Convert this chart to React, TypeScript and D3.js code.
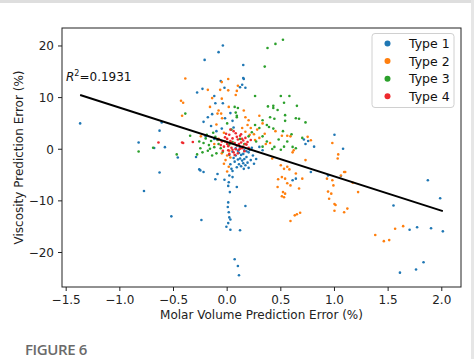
import React from 'react';
import * as d3 from 'd3';

// [molar volume error %, viscosity error %]
const type1: [number, number][] = [
  [-1.37, 5.0], [-0.28, 11.0], [-0.61, 5.2], [-0.63, 3.6], [-0.825, 1.3], [-0.58, 0.4], [-0.68, 0.25],
  [-0.46, -1.6], [-0.29, -1.5], [-0.63, -4.5], [-0.25, -4.1], [-0.775, -8.1], [-0.52, -13.0], [-0.24, -13.7],
  [-0.04, 20.1], [-0.08, 18.8], [-0.21, 17.3], [0.15, 16.3], [0.15, 13.8], [-0.06, 13.2],
  [-0.23, 11.7], [-0.025, 11.9], [0.12, 12.0], [0.17, 11.9], [0.155, 13.6], [0.14, 12.5], [-0.12, 10.3],
  [-0.11, 8.9], [-0.04, 8.9], [-0.14, 6.8], [-0.18, 6.2], [-0.22, 5.3],
  [0.73, 1.0], [0.755, 1.6], [0.81, 0.5], [0.715, 1.9], [0.30, 0.45], [0.33, -0.2], [1.0, 2.8], [1.08, 0.1],
  [0.015, -6.4], [0.025, -8.3], [0.01, -10.3], [0.006, -11.2], [0.015, -12.2], [0.02, -13.2], [0.03, -13.6],
  [0.01, -14.3], [-0.007, -15.0], [0.03, -15.6], [0.01, -7.1], [0.02, -5.1], [-0.025, -5.9], [0.05, -5.4],
  [0.09, -7.3], [-0.11, -5.8], [-0.26, -3.9], [-0.22, -4.4], [0.17, -11.0], [0.12, -15.7], [0.07, -21.3],
  [0.10, -22.6], [0.11, -24.4], [0.155, -3.8],
  [0.61, -6.0], [0.64, -5.7], [0.78, -4.4], [0.94, -5.1], [1.06, -5.2],
  [1.55, -10.9], [1.70, -15.6], [1.77, -15.1], [1.90, -15.3], [2.01, -15.9], [1.87, -6.0], [1.985, -9.5],
  [1.83, -21.9], [1.76, -23.3], [1.61, -23.9],
  [0.05, -0.5], [0.08, -1.2], [0.1, -0.3], [0.12, -1.8], [0.15, -0.9], [0.18, -1.5], [0.2, -0.6], [0.22, -2.1],
  [0.07, -2.4], [0.11, -2.9], [0.14, -2.2], [0.17, -3.1], [0.19, -2.6], [0.09, -3.5], [0.13, -1.1], [0.16, -0.2],
  [0.06, -1.7], [0.24, -1.2], [0.21, -0.1], [0.03, -2.9], [0.12, 0.4], [0.04, -3.8], [0.25, -2.8], [0.1, -2.0],
  [0.15, -2.7], [0.18, -0.4], [0.08, 0.2], [0.23, 0.3], [0.13, -3.3], [0.2, -3.6], [0.27, -1.9], [0.02, -1.1],
  [0.16, -1.9], [0.11, -0.7],
  [-0.15, 4.5], [-0.1, 3.5], [-0.05, 4.0], [-0.2, 2.5], [0.05, 5.5], [0.03, 7.0], [-0.02, 6.0], [0.06, 4.2],
  [-0.12, 2.0], [-0.09, -4.8], [0.05, -4.2],
];

const type2: [number, number][] = [
  [-0.39, 13.7], [-0.43, 9.4], [-0.41, 9.0], [-0.42, 6.5], [-0.245, 2.5], [0.01, 13.6], [-0.05, 13.0],
  [-0.18, 11.5], [-0.065, 11.5], [0.01, 11.4], [0.10, 12.3], [0.09, 11.3], [0.08, 10.5], [-0.14, 9.9],
  [-0.05, 9.8], [0.015, 8.2], [-0.16, 8.2], [-0.08, 7.5], [-0.056, 6.9], [-0.09, 6.9], [-0.047, 6.0],
  [0.155, 7.5], [0.17, 6.2], [0.20, 5.6], [0.19, 4.7], [0.22, 4.1], [0.14, 4.1], [0.17, 3.4], [0.21, 2.8],
  [0.25, 2.9], [0.51, 2.6], [0.56, 2.6], [0.59, 2.5], [0.75, 2.4], [0.78, 1.75], [0.98, 1.2],
  [0, -4.3], [0.015, -3.4], [-0.015, -2.1], [-0.03, -2.8],
  [0.42, -1.8], [0.475, -5.8], [0.51, -5.4], [0.54, -5.7], [0.56, -6.6], [0.47, -7.3], [0.52, -8.3],
  [0.54, -8.6], [0.53, -9.3], [0.51, -9.1],
  [0.50, -3.1], [0.53, -3.8], [0.56, -3.4], [0.58, -3.9], [0.64, -4.7], [0.70, -5.7], [0.73, -2.1],
  [0.62, -0.2], [0.61, -0.6], [0.59, -7.0], [0.67, -7.6],
  [0.59, -13.9], [0.63, -12.8], [0.65, -12.6], [0.68, -12.3],
  [1.035, -1.0], [1.03, -1.8], [1.10, -4.4],
  [0.93, -5.7], [0.98, -6.0], [0.99, -7.0], [0.94, -8.2], [0.97, -8.6], [0.95, -9.6], [1.0, -10.6],
  [1.01, -10.8], [1.0, -11.9], [1.09, -12.2], [1.12, -11.5], [1.09, -4.4], [1.06, -5.1], [1.22, -8.3],
  [1.17, -6.5],
  [1.38, -16.6], [1.46, -17.8], [1.51, -17.6], [1.565, -15.4], [1.64, -14.9],
  [-0.08, 2.0], [-0.03, 3.2], [0.0, -1.2], [-0.05, -0.8], [0.03, -1.6], [0.26, 1.8], [0.3, 2.2], [0.35, 3.0],
  [0.28, 3.8], [0.4, 1.2], [0.33, 5.0], [0.3, 6.5], [0.36, 1.0], [-0.12, 1.0], [-0.1, 4.8], [0.45, 3.5],
  [0.02, -0.3], [-0.02, 1.5],
];

const type3: [number, number][] = [
  [-0.39, 6.9], [-0.345, 2.6], [-0.69, 0.3], [-0.26, 1.5], [-0.825, -0.45], [-0.47, -1.0], [-0.28, -1.0],
  [0.376, 19.6], [0.45, 20.4], [0.52, 21.2], [0.35, 16.0], [0.26, 10.3], [0.07, 8.2], [0.10, 8.0],
  [0.08, 7.1], [0.09, 6.5], [0.09, 6.2],
  [0.38, 8.3], [0.43, 8.4], [0.47, 7.6], [0.43, 8.0], [0.50, 10.3], [0.58, 10.3], [0.53, 9.0], [0.65, 8.4],
  [0.54, 6.6], [0.54, 5.5], [0.64, 6.0], [0.67, 5.9], [0.40, 6.2], [0.44, 5.9], [0.33, 5.6], [0.37, 4.7],
  [0.39, 4.3], [0.43, 4.0], [0.26, 4.7], [0.30, 4.1], [0.73, 5.2],
  [0.33, 2.5], [0.37, 1.5], [0.27, 1.5], [0.50, -0.1], [0.56, 1.5], [0.53, 0.5], [0.33, 0.5], [0.64, 0.2],
  [0.42, 0.06], [0.44, 0.45], [0.61, 0.45],
  [-0.20, 2.1], [-0.17, 0.8], [-0.25, 0.2],
  [-0.22, 1.2], [-0.18, -0.3], [-0.15, 1.6], [-0.12, 0.4], [-0.1, -0.8], [-0.08, 1.0], [-0.14, -1.2],
  [-0.06, 0.2], [-0.19, 2.8], [-0.11, 2.4], [-0.04, -0.5], [-0.16, 0.1], [-0.09, 1.8], [0.02, 0.9],
  [0.05, 1.4], [-0.23, -0.6], [-0.13, 3.2], [0.12, 2.0], [0.16, 1.0], [0.2, 2.5], [0.23, 3.3], [0.0, 5.0],
  [0.04, 3.8], [0.6, 2.9], [0.7, 2.2], [0.48, 1.9], [0.52, 3.5],
];

const type4: [number, number][] = [
  [-0.64, 1.3], [-0.42, 1.3], [-0.41, 1.2], [-0.32, 1.4],
  [-0.05, 1.5], [-0.03, 0.5], [-0.02, 2.3], [0.0, 1.0], [0.01, -0.2], [0.02, 2.8], [0.03, 1.6], [0.04, 0.3],
  [0.05, 2.1], [0.06, -0.6], [0.07, 1.2], [0.08, 3.1], [0.09, 0.7], [0.1, 1.9], [0.11, -0.1], [0.12, 2.6],
  [0.13, 1.3], [0.14, 0.2], [0.15, 1.7], [0.16, -0.4], [0.17, 2.2], [0.18, 0.9], [0.06, 3.5], [0.02, -0.9],
  [-0.04, -0.3], [0.0, 2.0], [0.08, 0.0], [0.11, 1.0], [0.04, 1.3], [0.13, 2.9], [0.07, -1.1], [-0.06, 0.8],
  [0.19, 1.4], [0.03, 3.8], [0.1, -0.8], [0.15, 0.5], [0.01, 0.6], [0.05, -0.1], [-0.01, 3.0], [0.09, 2.4],
  [0.12, 0.1], [0.2, 0.3], [0.17, 1.0], [-0.08, 1.9], [0.14, 2.0], [0.22, 1.8],
];

const seriesNames = ['Type 1', 'Type 2', 'Type 3', 'Type 4'];
const seriesColors = ['#1f77b4', '#ff7f0e', '#2ca02c', '#ee2a2e'];
const seriesData = [type1, type2, type3, type4];

const xTicks = [-1.5, -1.0, -0.5, 0.0, 0.5, 1.0, 1.5, 2.0];
const yTicks = [-20, -10, 0, 10, 20];

// fitted line y = a + b*x
const fitIntercept = 1.39;
const fitSlope = -6.65;
const r2Label = '0.1931';

const W = 474;
const H = 359;
const margin = { left: 62, right: 13, top: 28, bottom: 72 };
const font = 'DejaVu Sans, sans-serif';

export default function App() {
  const all = seriesData.flat();
  const [x0, x1] = d3.extent(all, d => d[0]) as [number, number];
  const [y0, y1] = d3.extent(all, d => d[1]) as [number, number];
  const px = (x1 - x0) * 0.05;
  const py = (y1 - y0) * 0.05;

  const x = d3.scaleLinear().domain([x0 - px, x1 + px]).range([margin.left, W - margin.right]);
  const y = d3.scaleLinear().domain([y0 - py, y1 + py]).range([H - margin.bottom, margin.top]);

  const plotBottom = H - margin.bottom;
  const plotRight = W - margin.right;
  const fmt = (v: number) => d3.format('.1f')(v).replace('-', '\u2212');

  const line = d3.line<number>()
    .x(v => x(v))
    .y(v => y(fitIntercept + fitSlope * v));

  return (
    <svg width={W} height={H} style={{ position: 'absolute', left: 0, top: 0, background: '#fff' }}
      fontFamily={font}>
      <rect x={0} y={0} width={W} height={3} fill="#dedede" />
      <rect x={471} y={0} width={3} height={H} fill="#e6e6e6" />

      {seriesData.map((pts, i) => (
        <g key={i} fill={seriesColors[i]}>
          {pts.map((d, j) => (
            <circle key={j} cx={x(d[0])} cy={y(d[1])} r={1.3} />
          ))}
        </g>
      ))}

      <path d={line([x0, x1]) || ''} stroke="#000" strokeWidth={1.9} fill="none" />

      <text x={66} y={81} fontSize={12} fill="#111">
        <tspan fontStyle="italic">R</tspan>
        <tspan fontSize={8} dy={-5}>2</tspan>
        <tspan dy={5}>={r2Label}</tspan>
      </text>

      <rect x={margin.left} y={margin.top} width={plotRight - margin.left} height={plotBottom - margin.top}
        fill="none" stroke="#222" strokeWidth={1} />

      {xTicks.map(t => (
        <g key={t}>
          <line x1={x(t)} x2={x(t)} y1={plotBottom} y2={plotBottom + 4} stroke="#222" />
          <text x={x(t)} y={plotBottom + 17} fontSize={12} textAnchor="middle" fill="#222">{fmt(t)}</text>
        </g>
      ))}
      {yTicks.map(t => (
        <g key={t}>
          <line x1={margin.left - 4} x2={margin.left} y1={y(t)} y2={y(t)} stroke="#222" />
          <text x={margin.left - 8} y={y(t) + 4.5} fontSize={12} textAnchor="end" fill="#222">
            {String(t).replace('-', '\u2212')}
          </text>
        </g>
      ))}

      <text x={(margin.left + plotRight) / 2} y={plotBottom + 32} fontSize={12} textAnchor="middle" fill="#222">
        Molar Volume Prediction Error (%)
      </text>
      <text transform={`translate(23,${(margin.top + plotBottom) / 2}) rotate(-90)`} fontSize={12}
        textAnchor="middle" fill="#222">
        Viscosity Prediction Error (%)
      </text>

      <g>
        <rect x={372} y={33.5} width={82} height={74} rx={3} fill="#fff" fillOpacity={0.85} stroke="#d0d0d0" />
        {seriesNames.map((name, i) => (
          <g key={name}>
            <circle cx={387.5} cy={43.5 + i * 17.6} r={3} fill={seriesColors[i]} />
            <text x={409} y={48 + i * 17.6} fontSize={12.5} fill="#111">{name}</text>
          </g>
        ))}
      </g>

      <text x={25} y={355} fontSize={15} fontWeight={600} fill="#6a6a6a" fontFamily="Open Sans, sans-serif"
        letterSpacing={-0.4}>
        FIGURE 6
      </text>
    </svg>
  );
}
